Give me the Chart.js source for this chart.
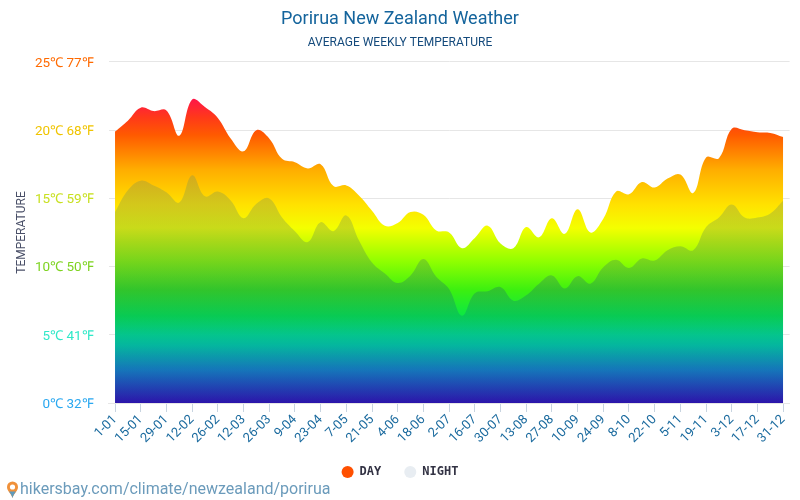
<!DOCTYPE html>
<html>
<head>
<meta charset="utf-8">
<title>Porirua New Zealand Weather</title>
<script src="https://cdn.jsdelivr.net/npm/chart.js@4"></script>
<style>
  html, body { margin: 0; padding: 0; background: #fff; }
  #wrap { position: relative; width: 800px; height: 500px; overflow: hidden; }
  #link { position: absolute; left: 20px; top: 479px; font: 16px Roboto, sans-serif; color: #6b9bbb; white-space: nowrap; }
  #pin { position: absolute; left: 6px; top: 481px; }
</style>
</head>
<body>
<div id="wrap">
  <canvas id="grafico" width="800" height="500"></canvas>
  <svg id="pin" width="13" height="18" viewBox="0 0 13 18">
    <path d="M6.5 17 C5 12 1 10 1 6 A5.5 5.5 0 0 1 12 6 C12 10 8 12 6.5 17Z" fill="#f0913a"/>
    <circle cx="6.5" cy="6" r="2.6" fill="#fff"/>
    <path d="M6.5 17 C5.6 14 4.4 12.5 3.2 10.6 L9.8 10.6 C8.6 12.5 7.4 14 6.5 17Z" fill="#5f9bbd"/>
  </svg>
  <div id="link">hikersbay.com/climate/newzealand/porirua</div>
</div>
<script>
const semanas = [
  '1-01', '8-01', '15-01', '22-01', '29-01', '5-02', '12-02', '19-02', '26-02', '5-03',
  '12-03', '19-03', '26-03', '2-04', '9-04', '16-04', '23-04', '30-04', '7-05', '14-05',
  '21-05', '28-05', '4-06', '11-06', '18-06', '25-06', '2-07', '9-07', '16-07', '23-07',
  '30-07', '6-08', '13-08', '20-08', '27-08', '3-09', '10-09', '17-09', '24-09', '1-10',
  '8-10', '15-10', '22-10', '29-10', '5-11', '12-11', '19-11', '26-11', '3-12', '10-12',
  '17-12', '24-12', '31-12'
];

const dia = [
  19.9, 20.7, 21.65, 21.4, 21.45, 19.6, 22.25, 21.7, 20.9, 19.4,
  18.45, 20.0, 19.4, 17.9, 17.65, 17.2, 17.5, 15.9, 15.95, 15.2,
  14.1, 13.0, 13.2, 14.0, 13.8, 12.65, 12.5, 11.35, 12.1, 13.0,
  11.7, 11.35, 12.9, 12.15, 13.55, 12.4, 14.2, 12.5, 13.5, 15.5,
  15.3, 16.2, 15.8, 16.45, 16.75, 15.4, 18.0, 17.95, 20.1, 20.0,
  19.85, 19.8, 19.5
];

const noite = [
  14.0, 15.6, 16.3, 15.95, 15.45, 14.7, 16.7, 15.15, 15.5, 14.85,
  13.55, 14.6, 15.0, 13.6, 12.6, 11.8, 13.25, 12.6, 13.75, 11.9,
  10.3, 9.5, 8.8, 9.35, 10.55, 9.25, 8.35, 6.4, 8.05, 8.2,
  8.5, 7.5, 7.9, 8.75, 9.35, 8.4, 9.3, 8.75, 9.95, 10.5,
  9.9, 10.6, 10.45, 11.2, 11.5, 11.2, 12.9, 13.6, 14.55, 13.6,
  13.6, 13.9, 14.85
];

const rotulosY = ['0℃ 32℉', '5℃ 41℉', '10℃ 50℉', '15℃ 59℉', '20℃ 68℉', '25℃ 77℉'];
const coresY = ['#2aa8f0', '#30e8c8', '#7ed321', '#c8e020', '#f0c400', '#ff6a00'];
const nomesLegenda = ['DAY', 'NIGHT'];
const coresLegenda = ['#ff5000', '#e8edf2'];

// paradas dadas em pixels da imagem, para bater com a faixa de cores de referencia
function montaGradiente(context, paradas, reserva) {
  const { ctx, chartArea } = context.chart;
  if (!chartArea) return reserva;
  const topo = chartArea.top;
  const base = chartArea.bottom;
  const g = ctx.createLinearGradient(0, topo, 0, base);
  paradas.forEach(p => g.addColorStop(Math.min(1, Math.max(0, (p[0] - topo) / (base - topo))), p[1]));
  return g;
}

function gradienteDia(context) {
  return montaGradiente(context, [
    [99, '#ff1648'], [118, '#ff3a18'], [135, '#ff5a00'], [170, '#ffae00'], [205, '#ffe200'],
    [228, '#f4ff00'], [262, '#8eff00'], [290, '#3cf010'], [316, '#0ae844'], [335, '#05dc88'],
    [345, '#05cc9c'], [370, '#1880bc'], [403, '#3212aa']
  ], '#ff5000');
}

function gradienteNoite(context) {
  return montaGradiente(context, [
    [175, 'rgba(0,110,170,0.17)'], [240, 'rgba(0,40,140,0.18)'], [290, 'rgba(0,0,170,0.18)'],
    [325, 'rgba(0,50,170,0.14)'], [403, 'rgba(0,40,170,0.12)']
  ], '#e8edf2');
}

function constroiGrafico() {
  const config = {
    type: 'line',
    data: {
      labels: semanas,
      datasets: [
        { label: nomesLegenda[0], data: dia, order: 2, fill: 'origin', tension: 0.4, borderWidth: 0, pointRadius: 0, backgroundColor: gradienteDia },
        { label: nomesLegenda[1], data: noite, order: 1, fill: 'origin', tension: 0.4, borderWidth: 0, pointRadius: 0, backgroundColor: gradienteNoite }
      ]
    },
    options: {
      responsive: false,
      animation: false,
      layout: { padding: { left: 10.4, right: 10.4, top: 9, bottom: 12 } },
      plugins: {
        title: {
          display: true,
          text: 'Porirua New Zealand Weather',
          color: '#14649c',
          font: { family: 'Roboto', size: 18, weight: 'normal' },
          padding: { top: 0, bottom: 3 }
        },
        subtitle: {
          display: true,
          text: 'AVERAGE WEEKLY TEMPERATURE',
          color: '#144a7c',
          font: { family: 'Roboto', size: 12, weight: 'normal' },
          padding: { top: 2, bottom: 12 }
        },
        legend: {
          position: 'bottom',
          labels: {
            usePointStyle: true,
            pointStyle: 'circle',
            boxWidth: 14,
            boxHeight: 8.5,
            padding: 23,
            color: '#333344',
            font: { family: 'DejaVu Sans Mono', size: 12, weight: 'bold' },
            generateLabels: () => nomesLegenda.map((nome, i) => ({
              text: nome, fillStyle: coresLegenda[i], strokeStyle: coresLegenda[i], lineWidth: 0,
              pointStyle: 'circle', datasetIndex: i, fontColor: '#333344'
            }))
          }
        },
        tooltip: { enabled: false }
      },
      scales: {
        x: {
          type: 'category',
          offset: true,
          afterBuildTicks: scale => { scale.ticks = scale.ticks.filter((t, i) => i % 2 === 0); },
          afterFit: scale => { scale.height = 40; },
          grid: { drawOnChartArea: false, drawTicks: true, tickLength: 9, tickColor: '#c8d4e0', offset: false },
          border: { color: '#e6e6e6' },
          ticks: {
            autoSkip: false,
            maxRotation: 45,
            minRotation: 45,
            color: '#1a6a9e',
            padding: 0,
            font: { family: 'Roboto', size: 13 }
          }
        },
        y: {
          min: 0,
          max: 25,
          afterFit: scale => { scale.width = 98.2; },
          grid: { color: '#e6e6e6', drawTicks: false },
          border: { display: false },
          title: {
            display: true,
            text: 'TEMPERATURE',
            color: '#4a5068',
            font: { family: 'Roboto', size: 12, weight: 'normal' },
            padding: { top: 4, bottom: 0 }
          },
          ticks: {
            stepSize: 5,
            padding: 15,
            labelOffset: 1.5,
            font: { family: 'Roboto', size: 13.5 },
            color: context => coresY[context.index],
            callback: (valor, i) => rotulosY[i]
          }
        }
      }
    }
  };

  new Chart(document.getElementById('grafico'), config);
}

constroiGrafico();
</script>
</body>
</html>
